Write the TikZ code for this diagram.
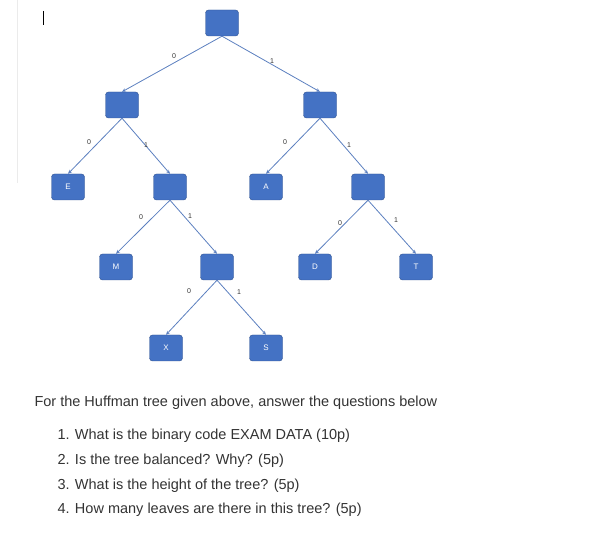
\documentclass[tikz,border=0pt]{standalone}
\usepackage{fontspec}
\setmainfont{Liberation Sans}
\usetikzlibrary{arrows.meta}
\definecolor{nb}{HTML}{4472C4}
\definecolor{nbd}{HTML}{2F528F}
\definecolor{ed}{HTML}{5B7FBF}
\definecolor{tx}{HTML}{333333}
\begin{document}
\begin{tikzpicture}[x=1pt,y=-1pt,
  nd/.style={draw=nbd,fill=nb,rounded corners=3pt,minimum width=33pt,minimum height=26pt,inner sep=0,text=white,font=\fontsize{8}{9}\selectfont},
  ed/.style={draw=ed,line width=0.8pt,-{Stealth[length=4pt,width=3.5pt]}},
  lb/.style={font=\fontsize{7}{8}\selectfont,text=black!80},
  qt/.style={anchor=west,font=\fontsize{14.5}{16}\selectfont,text=tx}]
\useasboundingbox (0,0) rectangle (614,540);
\draw[black!8,line width=1pt] (17,0) -- (17,183);
\draw[black,line width=0.8pt] (43,11) -- (43,25);
\node[nd] (r) at (222,23) {};
\node[nd] (l) at (122,105) {};
\node[nd] (rr) at (320,105) {};
\node[nd] (E) at (68,187) {E};
\node[nd] (lr) at (170,187) {};
\node[nd] (A) at (266,187) {A};
\node[nd] (rrr) at (368,187) {};
\node[nd] (M) at (116,267) {M};
\node[nd] (lrr) at (217,267) {};
\node[nd] (D) at (315,267) {D};
\node[nd] (T) at (416,267) {T};
\node[nd] (X) at (166,348) {X};
\node[nd] (S) at (266,348) {S};
\foreach \a/\b in {r/l,r/rr,l/E,l/lr,rr/A,rr/rrr,lr/M,lr/lrr,rrr/D,rrr/T,lrr/X,lrr/S}
  \draw[ed] (\a.south) -- (\b.north);
\node[lb] (z1) at (174,56) {0}; \node[lb] (o1) at (272,61) {1};
\node[lb] (z2) at (89,142) {0}; \node[lb] (o2) at (146,145) {1};
\node[lb] (z3) at (285,142) {0}; \node[lb] (o3) at (349,145) {1};
\node[lb] (z4) at (141,217) {0}; \node[lb] (o4) at (190,216) {1};
\node[lb] (z5) at (340,223) {0}; \node[lb] (o5) at (396,220) {1};
\node[lb] (z6) at (189,291) {0}; \node[lb] (o6) at (239,292) {1};
\node[qt] (q0) at (31,403) {For the Huffman tree given above, answer the questions below};
\node[qt] (q1) at (54,436) {1. What is the binary code EXAM DATA (10p)};
\node[qt] (q2) at (54,461) {2. Is the tree balanced? Why? (5p)};
\node[qt] (q3) at (54,486) {3. What is the height of the tree? (5p)};
\node[qt] (q4) at (54,510) {4. How many leaves are there in this tree? (5p)};
\end{tikzpicture}
\end{document}
